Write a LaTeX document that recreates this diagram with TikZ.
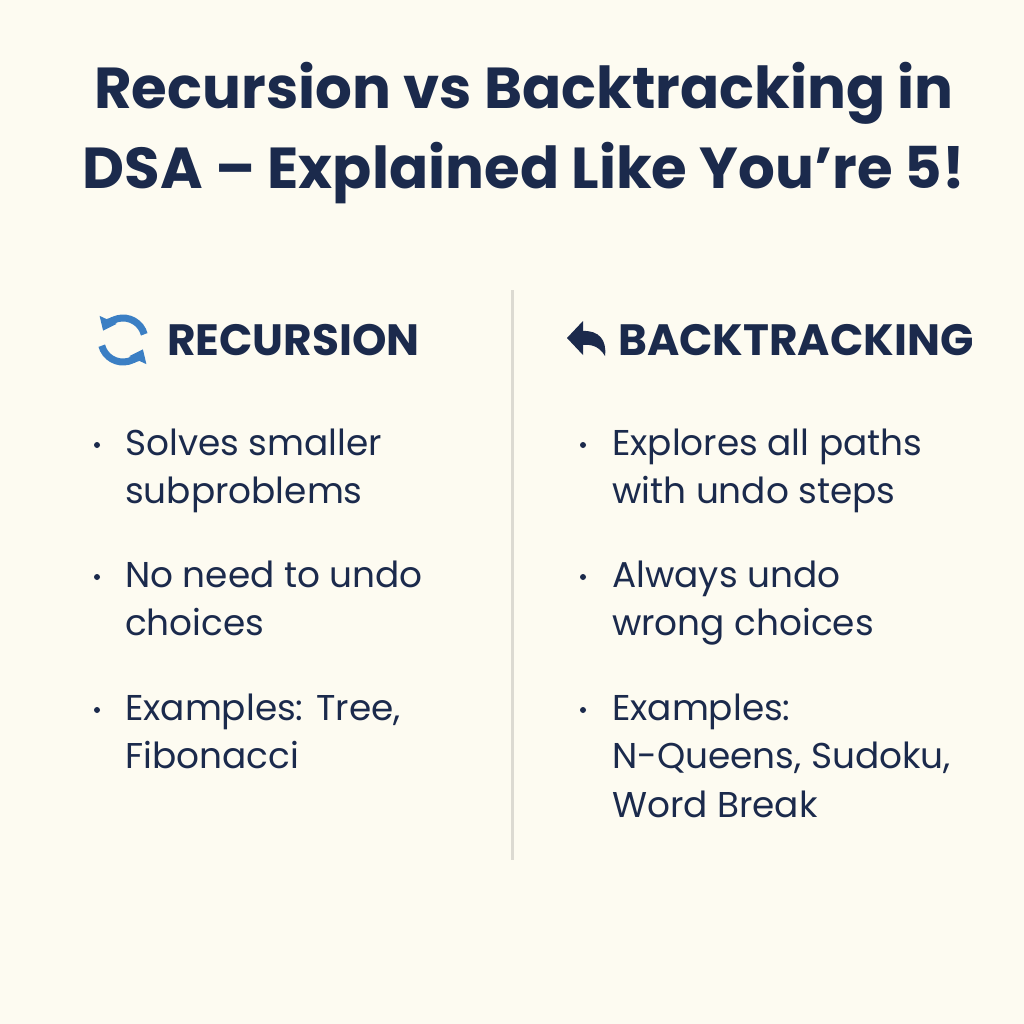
\documentclass[tikz,border=0pt]{standalone}
\usepackage{fontspec}
\setmainfont{Poppins}
\usetikzlibrary{arrows.meta}
\definecolor{bg}{HTML}{FDFBF1}
\definecolor{navy}{HTML}{1B2A4C}
\definecolor{rule}{HTML}{DCDAD2}
\definecolor{cyc}{HTML}{3B7FC4}
\tikzset{
  title/.style={text=navy,font=\fontsize{58}{70}\selectfont\bfseries,anchor=base},
  head/.style={text=navy,font=\fontsize{44}{52}\selectfont\bfseries,anchor=base west,inner sep=0pt},
  item/.style={text=navy,font=\fontsize{36}{49}\selectfont,anchor=base west,inner sep=0pt},
  dot/.style={circle,fill=navy,inner sep=0pt,minimum size=6bp}
}
\newcommand{\lines}[1]{\begin{tabular}[t]{@{}l@{}}#1\end{tabular}}
\begin{document}
\begin{tikzpicture}[x=1bp,y=-1bp]
\fill[bg] (0,0) rectangle (1024,1024);
\useasboundingbox (0,0) rectangle (1024,1024);
% title
\node[title] (t1) at (524,108) {Recursion vs Backtracking in};
\node[title] (t2) at (524,188) {DSA – Explained Like You’re 5!};
% divider
\coordinate (d1) at (512,290);
\coordinate (d2) at (512,860);
\draw[rule,line width=3bp] (d1) -- (d2);
% icons
\begin{scope}[shift={(123,340)},cyc,line width=7bp]
  \draw[-{Triangle[length=12bp,width=18bp]}] (165:22) arc (165:25:22);
  \draw[-{Triangle[length=12bp,width=18bp]}] (-15:22) arc (-15:-155:22);
\end{scope}
\begin{scope}[shift={(585,338)},navy]
  \fill (-18,0) -- (-2,-17) -- (-2,17) -- cycle;
  \fill (-3,-7) .. controls (14,-8) and (22,2) .. (20,18) .. controls (14,8) and (6,6) .. (-3,7) -- cycle;
\end{scope}
% headers
\node[head] (h1) at (167,355) {RECURSION};
\node[head] (h2) at (618,355) {BACKTRACKING};
% left bullets
\node[dot] at (97,445) {};
\node[item] (l1) at (125,455) {\lines{Solves smaller\\subproblems}};
\node[dot] at (97,577) {};
\node[item] (l2) at (125,587) {\lines{No need to undo\\choices}};
\node[dot] at (97,710) {};
\node[item] (l3) at (125,720) {\lines{Examples: Tree,\\Fibonacci}};
% right bullets
\node[dot] at (583,445) {};
\node[item] (r1) at (612,455) {\lines{Explores all paths\\with undo steps}};
\node[dot] at (583,577) {};
\node[item] (r2) at (612,587) {\lines{Always undo\\wrong choices}};
\node[dot] at (583,710) {};
\node[item] (r3) at (612,720) {\lines{Examples:\\N-Queens, Sudoku,\\Word Break}};
\end{tikzpicture}
\end{document}
